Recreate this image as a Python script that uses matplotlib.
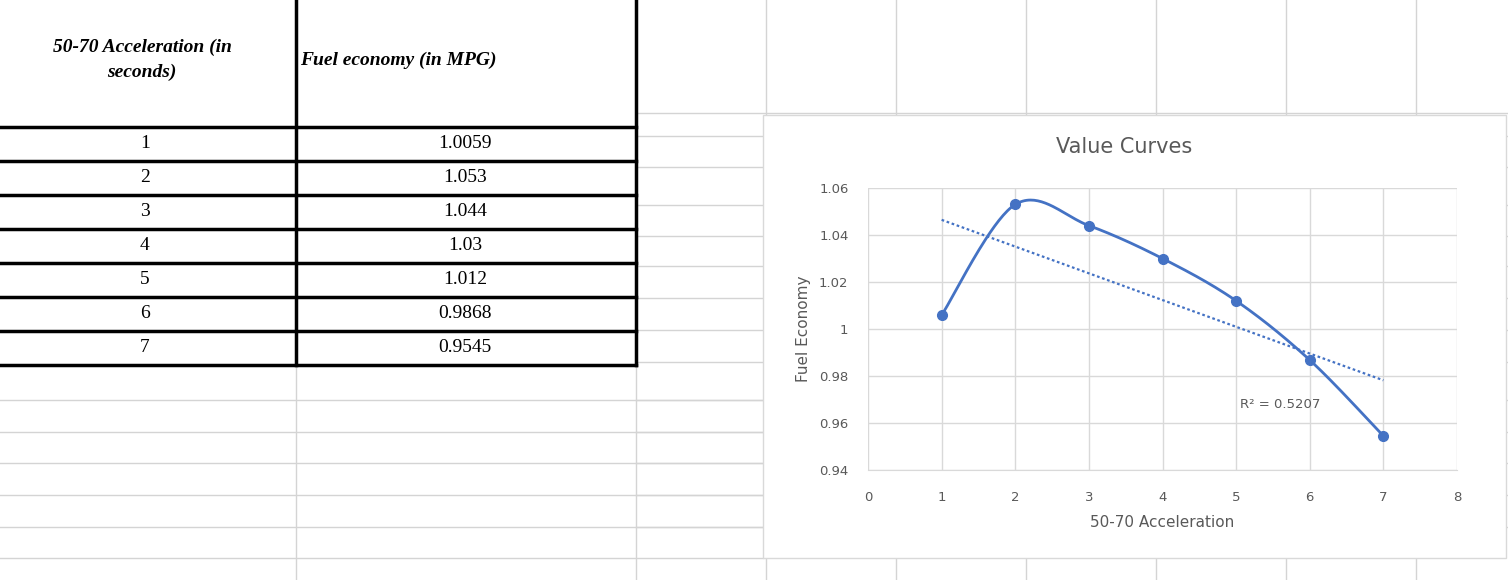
import numpy as np
import matplotlib
matplotlib.use("Agg")
import matplotlib.pyplot as plt

accel = [1, 2, 3, 4, 5, 6, 7]
fuel = [1.0059, 1.053, 1.044, 1.03, 1.012, 0.9868, 0.9545]
fuel_labels = ["1.0059", "1.053", "1.044", "1.03", "1.012", "0.9868", "0.9545"]
header = ["50-70 Acceleration (in\nseconds)", "Fuel economy (in MPG)"]
r2_label = "R² = 0.5207"

W, H = 1508, 580
fig = plt.figure(figsize=(W/100, H/100), dpi=100)
bg = fig.add_axes([0, 0, 1, 1])
bg.set_xlim(0, W); bg.set_ylim(H, 0); bg.axis("off")

grid_c = "#d4d4d4"
for y in [400, 432, 463, 495, 527, 558]:
    bg.plot([0, 763], [y, y], color=grid_c, lw=1)
for y in [113, 136, 167, 205, 236, 266, 298, 330, 362, 400, 432, 463, 495, 527]:
    bg.plot([636, W], [y, y], color=grid_c, lw=1)
for x in [296, 636, 766, 896, 1026, 1156, 1286, 1416]:
    bg.plot([x, x], [0, H], color=grid_c, lw=1)

rows_y = [127 + 34*i for i in range(8)]
for y in rows_y:
    bg.plot([0, 636], [y, y], color="black", lw=2.5)
for x in [296, 636]:
    bg.plot([x, x], [0, rows_y[-1]], color="black", lw=2.5)
bg.text(142, 60, header[0], ha="center", va="center", fontsize=14,
        family="Liberation Serif", style="italic", weight="bold", linespacing=1.6)
bg.text(300, 60, header[1], ha="left", va="center", fontsize=14,
        family="Liberation Serif", style="italic", weight="bold")
for i, (a, f) in enumerate(zip(accel, fuel_labels)):
    yc = rows_y[i] + 17
    bg.text(145, yc, str(a), ha="center", va="center", fontsize=14, family="Liberation Serif")
    bg.text(465, yc, f, ha="center", va="center", fontsize=14, family="Liberation Serif")

bg.add_patch(plt.Rectangle((763, 115), 743, 443, facecolor="white", edgecolor="#d9d9d9", lw=1, zorder=3))
bg.text(1124, 147, "Value Curves", ha="center", va="center", fontsize=15, color="#595959", zorder=4)

x0, x1, yt, yb = 868, 1457, 188, 470
ax = fig.add_axes([x0/W, 1-yb/H, (x1-x0)/W, (yb-yt)/H], zorder=5)
ax.set_facecolor("none")
ax.set_xlim(0, 8); ax.set_ylim(0.94, 1.06)
ax.set_xticks(range(9)); ax.set_yticks(np.arange(0.94, 1.061, 0.02))
ax.set_yticklabels(["0.94", "0.96", "0.98", "1", "1.02", "1.04", "1.06"])
ax.grid(True, color="#d9d9d9", lw=1)
for s in ["top", "right", "left"]:
    ax.spines[s].set_visible(False)
ax.spines["bottom"].set_color("#d9d9d9")
ax.tick_params(axis="x", length=0, labelsize=9.5, colors="#595959", pad=15)
ax.tick_params(axis="y", length=0, labelsize=9.5, colors="#595959", pad=14)
ax.set_xlabel("50-70 Acceleration", fontsize=11, color="#595959", labelpad=8)
ax.set_ylabel("Fuel Economy", fontsize=11, color="#595959", labelpad=6)

xs, ys = np.array(accel, float), np.array(fuel)
px, py = [], []
n = len(xs)
for i in range(n-1):
    p0 = i-1 if i > 0 else i
    p3 = i+2 if i+2 < n else i+1
    c1x = xs[i] + (xs[i+1]-xs[p0])/6; c1y = ys[i] + (ys[i+1]-ys[p0])/6
    c2x = xs[i+1] - (xs[p3]-xs[i])/6; c2y = ys[i+1] - (ys[p3]-ys[i])/6
    t = np.linspace(0, 1, 40)
    px += list((1-t)**3*xs[i] + 3*(1-t)**2*t*c1x + 3*(1-t)*t**2*c2x + t**3*xs[i+1])
    py += list((1-t)**3*ys[i] + 3*(1-t)**2*t*c1y + 3*(1-t)*t**2*c2y + t**3*ys[i+1])
blue = "#4472c4"
ax.plot(px, py, color=blue, lw=2)
ax.plot(xs, ys, "o", color=blue, ms=7)
m, b = np.polyfit(xs, ys, 1)
ax.plot([1, 7], [m+b, 7*m+b], ls=(0, (1.2, 1.2)), color=blue, lw=1.6)
ax.text(5.05, 0.9665, r2_label, fontsize=9.5, color="#595959")
fig.savefig("out.png", dpi=100)
